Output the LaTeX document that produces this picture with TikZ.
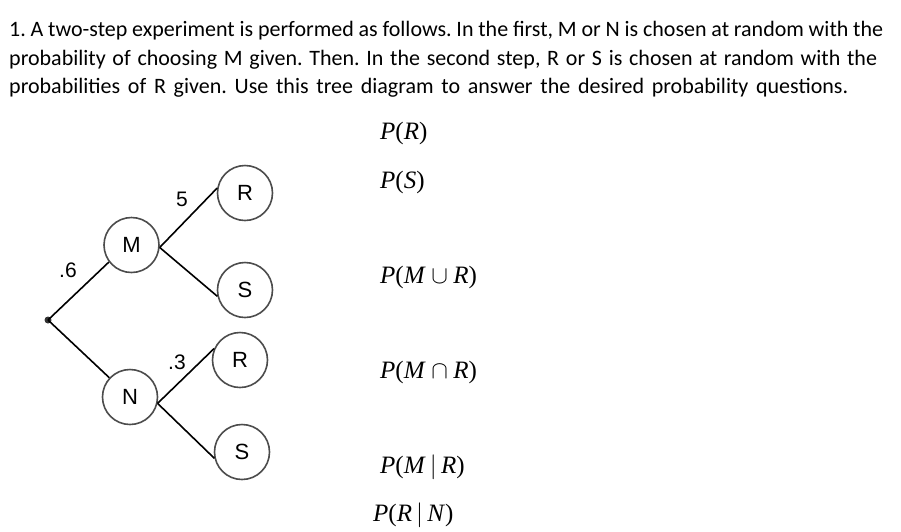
\documentclass[tikz,border=0pt]{standalone}
\usepackage{fontspec}
\setmainfont{Carlito}
\newfontfamily\arialf{Liberation Sans}
\newfontfamily\tms{Liberation Serif}
\frenchspacing
\begin{document}
\begin{tikzpicture}[x=1pt,y=-1pt,
  txt/.style={anchor=base west,inner sep=0pt,font=\fontsize{22}{26}\selectfont},
  st/.style={circle,draw=black!70,line width=1.6pt,minimum size=55pt,inner sep=0pt,font=\arialf\fontsize{22}{24}\selectfont},
  br/.style={line width=1.6pt,black},
  lab/.style={inner sep=0pt,font=\arialf\fontsize{21}{24}\selectfont},
  pq/.style={anchor=west,inner sep=0pt,font=\tms\fontsize{25}{28}\selectfont}]
\useasboundingbox (0,0) rectangle (901,531);
\node[txt] (l1) at (9,36) {\makebox[874pt][s]{1. A two-step experiment is performed as follows. In the first, M or N is chosen at random with the}};
\node[txt] (l2) at (9,65) {\makebox[868pt][s]{probability of choosing M given. Then. In the second step, R or S is chosen at random with the}};
\node[txt] (l3) at (9,93.5) {\makebox[839pt][s]{probabilities of R given. Use this tree diagram to answer the desired probability questions.}};
% tree
\node[circle,fill=black!80,inner sep=0pt,minimum size=7pt] (root) at (48,320) {};
\node[st] (M) at (131.5,245) {M};
\node[st] (N) at (130,397) {N};
\node[st] (R1) at (245,193) {R};
\node[st] (S1) at (245,290) {S};
\node[st] (R2) at (240,360) {R};
\node[st] (S2) at (242,452) {S};
\draw[br] (root.center) -- (M.217);
\draw[br] (root.center) -- (N.137);
\draw[br] (M.-5) -- (R1.170);
\draw[br] (M.-5) -- (S1.193);
\draw[br] (N.-13) -- (R2.156);
\draw[br] (N.-13) -- (S2.193);
\node[lab] (p6) at (68,270) {.6};
\node[lab] (p5) at (182,199) {5};
\node[lab] (p3) at (177,362) {.3};
% questions
\node[pq] (q1) at (380,133) {\textit{P}(\textit{R})};
\node[pq] (q2) at (380,182) {\textit{P}(\textit{S})};
\node[pq] (q3) at (380,277) {\textit{P}(\textit{M}\hspace{0.22em}$\cup$\hspace{0.22em}\textit{R})};
\node[pq] (q4) at (380,372) {\textit{P}(\textit{M}\hspace{0.22em}$\cap$\hspace{0.22em}\textit{R})};
\node[pq] (q5) at (380,467) {\textit{P}(\textit{M}\,$|$\,\textit{R})};
\node[pq] (q6) at (373,515) {\textit{P}(\textit{R}\,$|$\,\textit{N})};
\end{tikzpicture}
\end{document}
